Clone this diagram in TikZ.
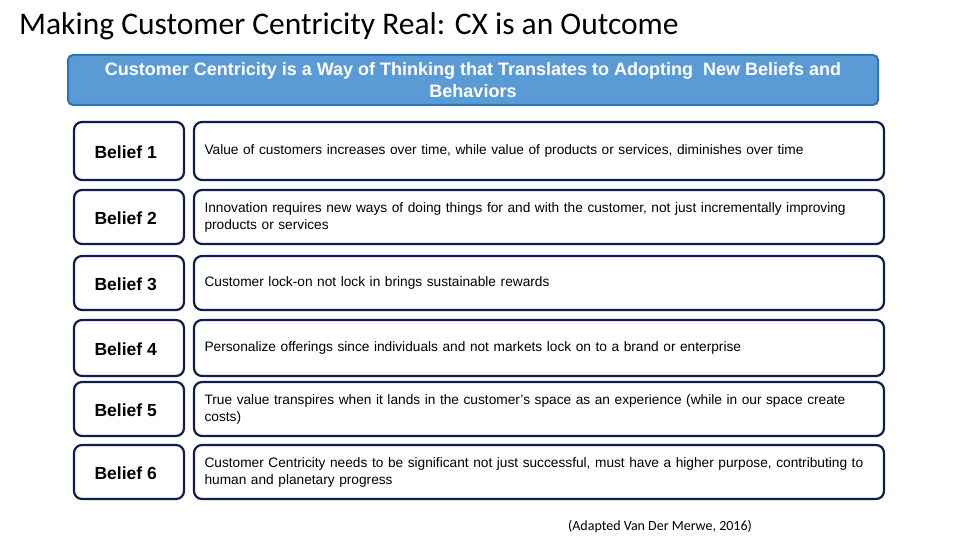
\documentclass[tikz,border=0pt]{standalone}
\usepackage{fontspec}
\setmainfont{Liberation Sans}
\newfontfamily\titlefont{Carlito}
\definecolor{navy}{HTML}{0F1F4B}
\definecolor{banner}{HTML}{5B9BD5}
\definecolor{bannerline}{HTML}{2E75B6}
\begin{document}
\begin{tikzpicture}[x=1pt,y=-1pt,
  bl/.style={draw=navy,line width=2.2pt,rounded corners=8pt,fill=white},
  lab/.style={font=\bfseries\fontsize{17.5}{20}\selectfont,anchor=west},
  txt/.style={font=\fontsize{13.7}{17}\selectfont,anchor=west,align=left,text width=660pt}]
\useasboundingbox (0,0) rectangle (960,540);
\node[anchor=west,font=\titlefont\fontsize{31.5}{34}\selectfont,inner sep=0] (title) at (19,26) {Making Customer Centricity Real: CX is an Outcome};
\draw[fill=banner,draw=bannerline,line width=2pt,rounded corners=5pt] (68,55) rectangle (878,105);
\node[font=\bfseries\fontsize{18}{22}\selectfont,text=white,align=center] (banner) at (473,80) {Customer Centricity is a Way of Thinking that Translates to Adopting\ \ New Beliefs and\\Behaviors};
\foreach \i/\a/\b/\t in {1/122/180/{Value of customers increases over time, while value of products or services, diminishes over time},
 2/190/244/{Innovation requires new ways of doing things for and with the customer, not just incrementally improving products or services},
 3/256/310/{Customer lock-on not lock in brings sustainable rewards},
 4/320/376/{Personalize offerings since individuals and not markets lock on to a brand or enterprise},
 5/382/436/{True value transpires when it lands in the customer's space as an experience (while in our space create costs)},
 6/445/499/{Customer Centricity needs to be significant not just successful, must have a higher purpose, contributing to human and planetary progress}}{
  \draw[bl] (74,\a) rectangle (184,\b);
  \draw[bl] (194,\a) rectangle (884,\b);
  \node[lab] (b\i) at (91,{(\a+\b)/2+1}) {Belief \i};
  \node[txt] (t\i) at (201,{(\a+\b)/2}) {\t};
}
\node[font=\titlefont\fontsize{14}{16}\selectfont] (src) at (660,527) {(Adapted Van Der Merwe, 2016)};
\end{tikzpicture}
\end{document}
